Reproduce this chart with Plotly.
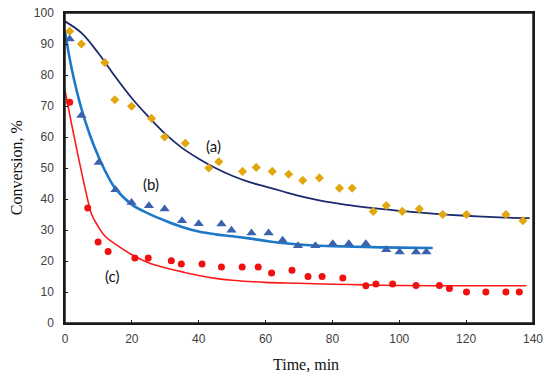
import plotly.graph_objects as go

# Experimental data (a) diamonds
a_x = [1.4, 4.9, 11.9, 14.9, 19.9, 25.9, 29.8, 36, 43, 46, 53.1, 57.2, 62, 66.9, 71.1, 76.1, 82.1, 85.9,
       92.2, 96.1, 100.9, 106, 113, 120.1, 131.9, 137]
a_y = [94.1, 90, 84, 72, 69.9, 66, 60, 58, 50, 52, 48.9, 50.2, 48.9, 48, 46, 46.8, 43.5, 43.5,
       36, 37.9, 36, 36.8, 35, 35, 35, 33]
# (b) triangles
b_x = [1.4, 4.9, 10.1, 15.1, 19.9, 25.1, 29.8, 35, 40, 46.8, 49.8, 55.8, 60.9, 65.1, 69.7, 74.9,
       80.1, 84.9, 90, 96.1, 100.1, 105, 108.1]
b_y = [91.6, 66.9, 51.8, 43, 38.9, 37.8, 36.8, 33, 32, 31.9, 29.9, 29, 29, 26.7, 24.9, 24.9,
       25.6, 25.6, 25.6, 23.6, 22.9, 22.9, 22.9]
# (c) circles
c_x = [1.4, 6.8, 9.9, 12.9, 20.9, 24.9, 31.8, 34.8, 41, 46.8, 53, 57.8, 61.8, 67.9, 72.7, 76.9,
       83.1, 90, 93, 98, 105, 112, 115, 120.1, 125.9, 131.9, 135.9]
c_y = [71.2, 37.1, 26.1, 23.1, 21, 21, 20.1, 19, 19, 18.1, 18.1, 18.1, 16.1, 17, 15, 15,
       14.5, 12, 12.6, 12.6, 12.1, 12.1, 11.1, 10, 10, 10, 10]

# Model curves
fa_x = [0, 5, 10, 15, 20, 25, 30, 35, 40, 45, 50, 55, 60, 65, 70, 75, 80, 85, 90, 95, 100, 110, 120, 130, 139]
fa_y = [97.3, 93.5, 87, 79.5, 72.5, 66.5, 61, 56.5, 53, 50, 47.5, 45.5, 44, 42.5, 41, 39.8, 38.8, 38,
        37.3, 36.7, 36.2, 35.3, 34.6, 34.1, 33.8]
fb_x = [0, 2, 5, 7.5, 10, 12.5, 15, 20, 25, 30, 35, 40, 45, 50, 55, 60, 65, 70, 75, 80, 90, 100, 110]
fb_y = [94, 82, 68.8, 60.5, 53.7, 48, 43.5, 38.2, 35.3, 33, 31, 29.5, 28.6, 28, 27.3, 26.5, 25.8,
        25.3, 25, 24.8, 24.5, 24.3, 24.2]
fc_x = [0, 2, 4, 6, 8, 10, 12, 15, 20, 25, 30, 35, 40, 45, 50, 55, 60, 70, 80, 90, 100, 110, 120, 138]
fc_y = [75, 64, 53.5, 43.5, 35, 31, 28, 25.5, 22, 19.4, 17.8, 16.5, 15.3, 14.4, 13.8, 13.4, 13.1,
        12.8, 12.5, 12.3, 12.1, 12, 12, 12]

labels = ["(a)", "(b)", "(c)"]
label_x = [44.5, 25.6, 14]
label_y = [57, 45, 15.3]

x_ticks = [0, 20, 40, 60, 80, 100, 120, 140]
y_ticks = [0, 10, 20, 30, 40, 50, 60, 70, 80, 90, 100]

fig = go.Figure()
fig.add_trace(go.Scatter(x=fa_x, y=fa_y, mode="lines", line=dict(color="#1B2A6B", width=1.8, shape="spline")))
fig.add_trace(go.Scatter(x=fb_x, y=fb_y, mode="lines", line=dict(color="#1E78C8", width=2.6, shape="spline")))
fig.add_trace(go.Scatter(x=fc_x, y=fc_y, mode="lines", line=dict(color="#FF1A1A", width=1.6, shape="spline")))
fig.add_trace(go.Scatter(x=a_x, y=a_y, mode="markers", marker=dict(symbol="diamond", size=7, color="#E3A70E")))
fig.add_trace(go.Scatter(x=b_x, y=b_y, mode="markers", marker=dict(symbol="triangle-up", size=9, color="#3B62AD")))
fig.add_trace(go.Scatter(x=c_x, y=c_y, mode="markers", marker=dict(symbol="circle", size=7, color="#F01010")))

for t, x, y in zip(labels, label_x, label_y):
    fig.add_annotation(x=x, y=y, text=t, showarrow=False,
                       font=dict(family="Lato, Open Sans, sans-serif", size=15, color="#111111"))

title_font = dict(family="Liberation Serif, Times New Roman, serif", size=16, color="#111111")
fig.add_annotation(xref="paper", yref="paper", x=0.5147, y=-0.1345, text="Time, min", showarrow=False,
                   xanchor="center", yanchor="middle", font=title_font)
fig.add_annotation(xref="paper", yref="paper", x=-0.1042, y=0.5, text="Conversion, %", showarrow=False,
                   textangle=-90, xanchor="center", yanchor="middle", font=title_font)

# plot frame
fig.add_shape(type="rect", xref="paper", yref="paper", x0=0, y0=0, x1=1, y1=1,
              line=dict(color="#1a1a1a", width=1.5), layer="above")

axis_common = dict(showgrid=False, zeroline=False, showline=True, mirror=True, linecolor="#1a1a1a",
                   linewidth=1.5, ticks="inside", ticklen=3, tickcolor="#1a1a1a", tickwidth=1,
                   automargin=False,
                   tickfont=dict(family="Liberation Sans, Arial, sans-serif", size=12, color="#404040"))
fig.update_xaxes(range=[0, 140], tickvals=x_ticks, **axis_common, ticklabelstandoff=4)
fig.update_yaxes(range=[0, 100], tickvals=y_ticks, **axis_common, ticklabelstandoff=7)
fig.update_layout(width=550, height=380, showlegend=False, plot_bgcolor="white", paper_bgcolor="white",
                  margin=dict(l=64.5, r=17.3, t=13.3, b=56.7, autoexpand=False))
fig.write_html("out.html", config={"displayModeBar": False},
               post_script="document.body.style.margin='0';document.body.style.overflow='hidden';")
